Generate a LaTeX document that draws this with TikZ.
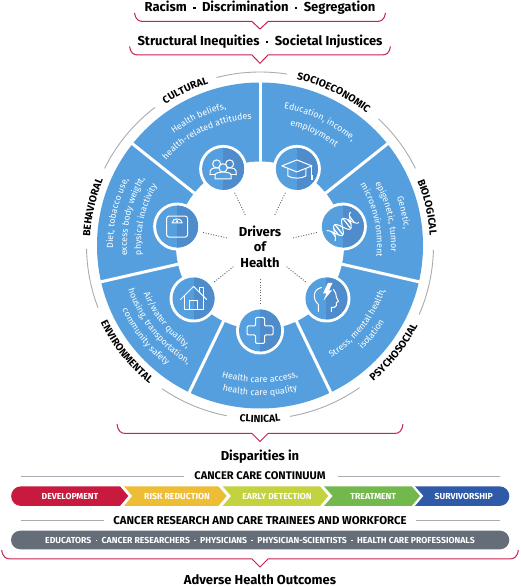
\documentclass[tikz,border=0pt]{standalone}
\usepackage{fontspec}
\setmainfont{Fira Sans}
\usetikzlibrary{decorations.text}
\definecolor{wheelblue}{HTML}{559FDE}
\definecolor{iconblue}{HTML}{4F8CCB}
\definecolor{arcgrey}{HTML}{A8ACB2}
\definecolor{brk}{HTML}{C5234D}
\definecolor{cdev}{HTML}{C8193F}
\definecolor{crisk}{HTML}{EEBD36}
\definecolor{cearly}{HTML}{C3D23F}
\definecolor{ctreat}{HTML}{72B84C}
\definecolor{csurv}{HTML}{2F5AA8}
\definecolor{cgrey}{HTML}{646D78}
\newcommand{\labfont}{\fontsize{10.3}{11}\bfseries\selectfont}
\newcommand{\secfont}{\fontsize{8.9}{10}\selectfont}
\newcommand{\sepdot}{\enspace\raisebox{0.22em}{\rule{0.17em}{0.17em}}\enspace}
% clockwise and counter-clockwise text on an arc
\newcommand{\cwtext}[5]{\path[decorate,decoration={text along path,text align=center,text={|#4|#5}}] (#2+#3:#1) arc[start angle=#2+#3,end angle=#2-#3,radius=#1];}
\newcommand{\ccwtext}[5]{\path[decorate,decoration={text along path,text align=center,text={|#4|#5}}] (#2-#3:#1) arc[start angle=#2-#3,end angle=#2+#3,radius=#1];}
\tikzset{
  bracket/.style={draw=brk,line width=1pt,rounded corners=0pt},
  headline/.style={font=\fontsize{13}{15}\bfseries\selectfont,inner sep=0pt},
  rowtitle/.style={font=\fontsize{11.1}{13}\bfseries\selectfont,inner sep=0pt},
  barlabel/.style={font=\fontsize{8.7}{10}\bfseries\selectfont,text=white,inner sep=0pt},
  rulegrey/.style={draw=arcgrey,line width=0.8pt},
  outerarc/.style={draw=arcgrey,line width=0.9pt},
  dotlink/.style={draw=black!60,line width=0.9pt,dash pattern=on 1pt off 1.6pt},
  ico/.style={draw=white,line width=1pt,line join=round,line cap=round},
}
\newcommand{\iconbase}[1]{%
  \fill[white] (#1) circle[radius=24];
  \fill[wheelblue] (#1) circle[radius=21];
  \begin{scope}\clip (#1) circle[radius=21];
    \fill[iconblue] (#1) ++(0,-22) rectangle ++(22,44);
  \end{scope}}
\newcommand{\bracketpath}[5]{% left x, right x, end y, flat y, tip y
  \draw[bracket] (#1,#3) .. controls (#1+1,#4+2) and (#1+4,#4) .. (#1+9,#4) -- (252,#4) -- (260,#5) -- (268,#4) -- (#2-9,#4) .. controls (#2-4,#4) and (#2-1,#4+2) .. (#2,#3);}
\begin{document}
\begin{tikzpicture}[x=1pt,y=1pt]
\useasboundingbox (0,0) rectangle (520,587);
\fill[white] (0,0) rectangle (520,587);
% top texts and brackets
\node[headline] (racism) at (260,579) {Racism\sepdot Discrimination\sepdot Segregation};
\bracketpath{134.5}{385.5}{574}{565.5}{558}
\node[headline] (struct) at (260,545) {Structural Inequities\sepdot Societal Injustices};
\bracketpath{129.5}{390.5}{540.5}{532}{523.7}
% wheel
\begin{scope}[shift={(260,341.5)}]
  \fill[wheelblue] (0,0) circle[radius=163];
  \foreach \a in {90,38.57,-12.86,-64.29,-115.71,-167.14,141.43}
    \draw[white,line width=3pt] (0,0) -- (\a:165);
  \fill[white] (0,0) circle[radius=84];
  % outer arcs
  \foreach \s/\e in {81/104.5,127.3/153.6,181/201,235.6/259,280/305,336.6/358.5,26.4/46.9}
    \draw[outerarc] (\s:173.5) arc[start angle=\s,end angle=\e,radius=173.5];
  % outer labels
  \cwtext{170}{115.71}{35}{\labfont}{CULTURAL}
  \cwtext{170}{64.29}{35}{\labfont}{SOCIOECONOMIC}
  \cwtext{170}{12.86}{35}{\labfont}{BIOLOGICAL}
  \cwtext{170}{167.14}{35}{\labfont}{BEHAVIORAL}
  \ccwtext{177}{-38.57}{35}{\labfont}{PSYCHOSOCIAL}
  \ccwtext{177}{-90}{35}{\labfont}{CLINICAL}
  \ccwtext{177}{-141.43}{35}{\labfont}{ENVIRONMENTAL}
  % sector texts
  \cwtext{141}{115.71}{30}{\color{white}\secfont}{Health beliefs,}
  \cwtext{127}{115.71}{30}{\color{white}\secfont}{health-related attitudes}
  \cwtext{139}{64.29}{30}{\color{white}\secfont}{Education, income,}
  \cwtext{124}{64.29}{30}{\color{white}\secfont}{employment}
  \cwtext{145}{12.86}{30}{\color{white}\secfont}{Genetic,}
  \cwtext{131}{12.86}{30}{\color{white}\secfont}{epigenetic, tumor}
  \cwtext{117}{12.86}{30}{\color{white}\secfont}{microenvironment}
  \cwtext{147}{167.14}{30}{\color{white}\secfont}{Diet, tobacco use,}
  \cwtext{133}{167.14}{30}{\color{white}\secfont}{excess body weight,}
  \cwtext{119}{167.14}{30}{\color{white}\secfont}{physical inactivity}
  \ccwtext{133}{-38.57}{30}{\color{white}\secfont}{Stress, mental health,}
  \ccwtext{146}{-38.57}{30}{\color{white}\secfont}{isolation}
  \ccwtext{137}{-90}{30}{\color{white}\secfont}{Health care access,}
  \ccwtext{150}{-90}{30}{\color{white}\secfont}{health care quality}
  \ccwtext{126}{-141.43}{30}{\color{white}\secfont}{Air/water quality,}
  \ccwtext{139}{-141.43}{30}{\color{white}\secfont}{housing, transportation,}
  \ccwtext{152}{-141.43}{30}{\color{white}\secfont}{community safety}
  % centre
  \node[font=\fontsize{13}{15.4}\bfseries\selectfont,align=center,inner sep=0pt] (drivers) at (0,-1) {Drivers\\of\\Health};
  % icon discs
  \coordinate (icul) at (115.71:85);
  \coordinate (isoc) at (64.29:85);
  \coordinate (ibio) at (12.86:85);
  \coordinate (ipsy) at (-38.57:85);
  \coordinate (icli) at (-90:85);
  \coordinate (ienv) at (-141.43:85);
  \coordinate (ibeh) at (167.14:85);
  \foreach \n in {icul,isoc,ibio,ipsy,icli,ienv,ibeh} {\iconbase{\n}}
  % dotted links
  \foreach \a in {115.71,64.29,12.86,-38.57,-90,-141.43,167.14}
    \draw[dotlink] (\a:34) -- (\a:59);
  % people
  \begin{scope}[shift={(icul)},ico]
    \draw (-6.5,5) circle[radius=4];
    \draw (6.5,5) circle[radius=4];
    \draw (-13,-6) -- (-13,-2) .. controls (-13,0) and (-10,1) .. (-6.5,1) .. controls (-4,1) and (-2,0.5) .. (-1,0);
    \draw (13,-6) -- (13,-2) .. controls (13,0) and (10,1) .. (6.5,1) .. controls (4,1) and (2,0.5) .. (1,0);
    \draw (-13,-6) -- (-8,-6);
    \draw (13,-6) -- (8,-6);
    \draw[fill=wheelblue] (0,1) circle[radius=4.2];
    \draw[fill=wheelblue] (-8,-10) -- (-8,-6) .. controls (-8,-4) and (-4,-3.2) .. (0,-3.2) .. controls (4,-3.2) and (8,-4) .. (8,-6) -- (8,-10) -- cycle;
  \end{scope}
  % graduation cap
  \begin{scope}[shift={(isoc)},ico]
    \draw (-15,3) -- (0,9) -- (15,3) -- (0,-3) -- cycle;
    \draw (-9,0) -- (-9,-7) .. controls (-5,-10) and (5,-10) .. (9,-7) -- (9,0);
    \draw (15,3) -- (15,-6);
    \fill[white] (13.8,-11) rectangle (16.2,-6);
  \end{scope}
  % DNA
  \begin{scope}[shift={(ibio)},rotate=38,ico]
    \draw plot[domain=-15:15,samples=40,smooth] (\x,{6.5*sin(\x*18+10)});
    \draw plot[domain=-15:15,samples=40,smooth] (\x,{-6.5*sin(\x*18+10)});
    \foreach \x in {-12,-8.5,-5,5,8,11.5}
      \draw[line width=1.2pt] (\x,{6.5*sin(\x*18+10)}) -- (\x,{-6.5*sin(\x*18+10)});
  \end{scope}
  % scale
  \begin{scope}[shift={(ibeh)},ico]
    \draw[rounded corners=2.5pt] (-10.5,-10.5) rectangle (10.5,10.5);
    \draw (-5,3.6) .. controls (-5,9) and (5,9) .. (5,3.6) -- cycle;
    \fill[white] (0,5.2) circle[radius=1.3];
  \end{scope}
  % head
  \begin{scope}[shift={(ipsy)},ico]
    \draw (-8,-13) -- (-8,-6) .. controls (-14,-1) and (-14,9) .. (-5,11);
    \draw (7,9) .. controls (9,7) and (10,4) .. (10,1) -- (12,-3) -- (10,-4) -- (10,-7) .. controls (10,-9) and (7,-9) .. (5,-9) -- (5,-13);
    \fill[white] (1.5,15.5) -- (-3.5,5) -- (0,5) -- (-3,-2) -- (5.5,8) -- (2.5,8) -- (6,15.5) -- cycle;
  \end{scope}
  % cross
  \begin{scope}[shift={(icli)},ico]
    \draw[rounded corners=1.2pt] (-4.5,13) -- (4.5,13) -- (4.5,4.5) -- (13,4.5) -- (13,-4.5) -- (4.5,-4.5) -- (4.5,-13) -- (-4.5,-13) -- (-4.5,-4.5) -- (-13,-4.5) -- (-13,4.5) -- (-4.5,4.5) -- cycle;
  \end{scope}
  % house
  \begin{scope}[shift={(ienv)},ico]
    \draw (-13,-1) -- (0,12) -- (13,-1);
    \draw (-9.5,2) -- (-9.5,-11) -- (9.5,-11) -- (9.5,2);
    \draw (-4,-11) -- (-4,-2) -- (4,-2) -- (4,-11);
    \draw (6,6) -- (6,11) -- (9.5,11) -- (9.5,2.5);
  \end{scope}
\end{scope}
% wheel bracket
\bracketpath{117}{403}{163}{153.5}{145.5}
\node[headline] (disp) at (260,130.5) {Disparities in};
% continuum row
\node[rowtitle] (cont) at (260,111) {CANCER CARE CONTINUUM};
\coordinate (c1l) at (21,111); \coordinate (c1r) at (500,111);
\draw[rulegrey] (c1l) -- (184,111);
\draw[rulegrey] (338,111) -- (c1r);
\fill[cdev] (120,100.7) -- (128.3,91) -- (120,81) -- (21,81) arc[start angle=270,end angle=90,radius=9.85] -- cycle;
\fill[crisk] (124,100.7) -- (218.3,100.7) -- (226.7,91) -- (218.3,81) -- (124,81) -- (132.3,91) -- cycle;
\fill[cearly] (222.7,100.7) -- (320,100.7) -- (328.3,91) -- (320,81) -- (222.7,81) -- (231,91) -- cycle;
\fill[ctreat] (324,100.7) -- (411.7,100.7) -- (420,91) -- (411.7,81) -- (324,81) -- (332.7,91) -- cycle;
\fill[csurv] (415,100.7) -- (499.5,100.7) arc[start angle=90,end angle=-90,radius=9.85] -- (415,81) -- (423.5,91) -- cycle;
\node[barlabel] (dev) at (70,91) {DEVELOPMENT};
\node[barlabel] (risk) at (177,91) {RISK REDUCTION};
\node[barlabel] (early) at (277,91) {EARLY DETECTION};
\node[barlabel] (treat) at (373.3,91) {TREATMENT};
\node[barlabel] (surv) at (463.8,91) {SURVIVORSHIP};
% workforce row
\node[font=\fontsize{11.4}{13}\bfseries\selectfont,inner sep=0pt] (work) at (260,66.3) {CANCER RESEARCH AND CARE TRAINEES AND WORKFORCE};
\draw[rulegrey] (21,66.3) -- (104,66.3);
\draw[rulegrey] (416,66.3) -- (500,66.3);
\fill[cgrey,rounded corners=9.3pt] (11,37.7) rectangle (509.3,56.3);
\node[barlabel] (edu) at (260,47) {EDUCATORS\sepdot CANCER RESEARCHERS\sepdot PHYSICIANS\sepdot PHYSICIAN-SCIENTISTS\sepdot HEALTH CARE PROFESSIONALS};
% bottom
\bracketpath{1.7}{518.3}{37}{28}{20}
\node[headline] (adv) at (260,7.5) {Adverse Health Outcomes};
\end{tikzpicture}
\end{document}
